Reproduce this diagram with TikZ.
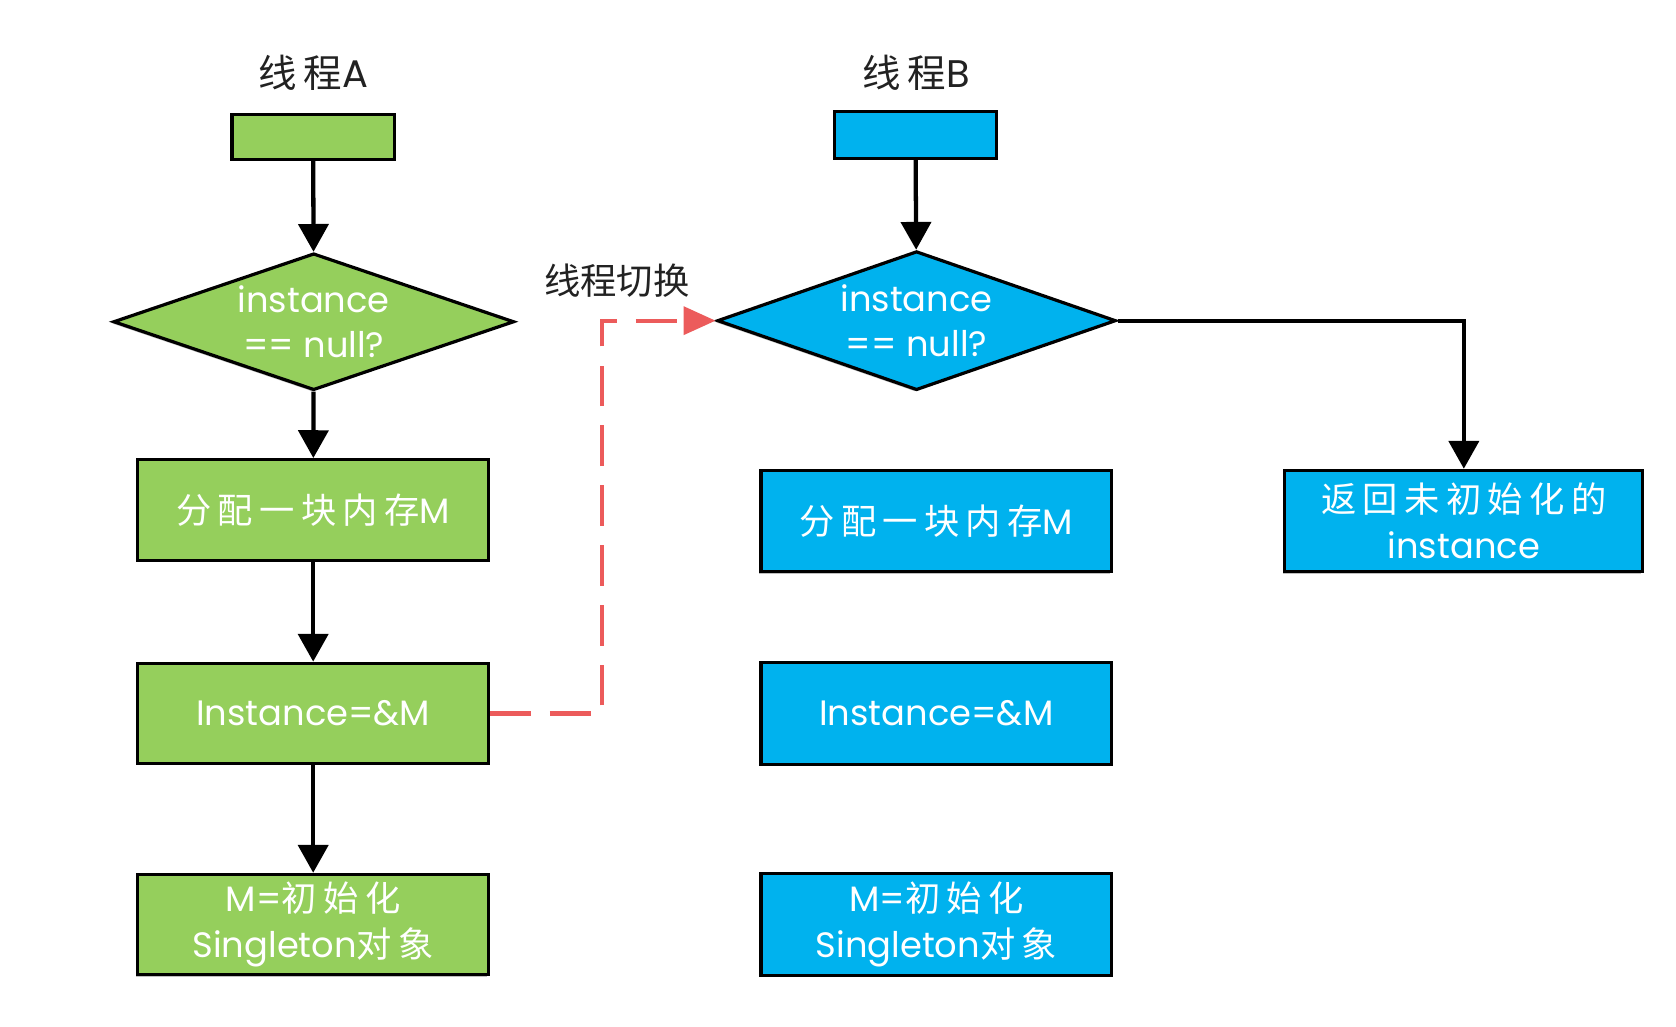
\documentclass[tikz,border=0pt]{standalone}
\usepackage{fontspec}
\setmainfont{Poppins}
\newfontfamily\cjk{Noto Sans CJK SC}
\newfontfamily\cjkw[LetterSpace=18]{Noto Sans CJK SC}
\usetikzlibrary{shapes.geometric,arrows.meta,shadows}
\definecolor{gA}{HTML}{95CF5C}
\definecolor{bB}{HTML}{00B2EE}
\definecolor{rL}{HTML}{EC5B5B}
\definecolor{txt}{HTML}{222222}
\begin{document}
\begin{tikzpicture}[x=0.5pt,y=-0.5pt,
  shad/.style={drop shadow={shadow xshift=-0.8pt,shadow yshift=-0.8pt,opacity=0.25,fill=black}},
  box/.style={draw=black,line width=1.5pt,inner sep=0pt,text=white,align=center,
    font=\fontsize{16.5}{21.5}\selectfont,shad},
  gbox/.style={box,fill=gA,minimum width=164pt,minimum height=47pt},
  bbox/.style={box,fill=bB,minimum width=164pt,minimum height=47.5pt},
  dia/.style={diamond,draw=black,line width=1.5pt,inner sep=0pt,shad},
  dtext/.style={text=white,align=center,font=\fontsize{16.5}{21}\selectfont,inner sep=0pt},
  title/.style={text=txt,font=\fontsize{18}{20}\selectfont},
  arr/.style={line width=2pt,-{Triangle[width=14pt,length=13pt]}},
  red/.style={draw=rL,line width=2pt,dash pattern=on 19pt off 9pt,-{Triangle[width=13pt,length=15pt]}}
]
\fill[white] (0,0) rectangle (1568,960);
\useasboundingbox (0,0) rectangle (1568,960);

% titles
\node[title] (tA) at (293,68) {{\cjkw 线程}A};
\node[title] (tB) at (857,68) {{\cjkw 线程}B};
\node[text=txt,font=\cjk\fontsize{17}{20}\selectfont] (swl) at (577,263) {线程切换};

% thread A
\node[gbox,minimum width=76pt,minimum height=21pt] (sA) at (293,128) {};
\node[dia,fill=gA,minimum width=187.5pt,minimum height=64pt] (dA) at (293.5,301) {};
\node[dtext] (dAt) at (293.5,301) {instance\\== null?};
\node[gbox] (A1) at (293,477) {{\cjkw 分配一块内存}M};
\node[gbox] (A2) at (293,667.5) {Instance=\&M};
\node[gbox] (A3) at (293,865) {M={\cjkw 初始化}\\Singleton{\cjkw 对象}};

% thread B
\node[bbox,minimum width=75.5pt,minimum height=22pt] (sB) at (856.5,126) {};
\node[dia,fill=bB,minimum width=186.5pt,minimum height=65pt] (dB) at (857.5,300) {};
\node[dtext] (dBt) at (857.5,300) {instance\\== null?};
\node[bbox] (B1) at (876,487.5) {{\cjkw 分配一块内存}M};
\node[bbox] (B2) at (876,667.5) {Instance=\&M};
\node[bbox] (B3) at (876,865) {M={\cjkw 初始化}\\Singleton{\cjkw 对象}};
\node[bbox,minimum width=167.5pt] (B4) at (1369.5,487.5) {{\cjkw 返回未初始化的}\\instance};

% connectors
\draw[arr] (sA) -- (dA);
\draw[arr] (dA) -- (A1);
\draw[arr] (A1) -- (A2);
\draw[arr] (A2) -- (A3);
\draw[arr] (sB) -- (dB);
\draw[arr] (dB.east) -| (B4.north);

\coordinate (sw) at (563,667.5);
\draw[red] (A2.east) -- (sw) |- (dB.west);
\end{tikzpicture}
\end{document}
